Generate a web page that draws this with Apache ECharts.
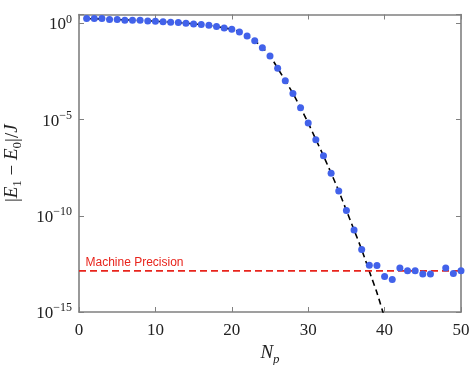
<!DOCTYPE html>
<html>
<head>
<meta charset="utf-8">
<script src="https://cdn.jsdelivr.net/npm/echarts@6/dist/echarts.min.js"></script>
<style>html,body{margin:0;padding:0;background:#fff}#c{width:474px;height:365px}</style>
</head>
<body>
<div id="c"></div>
<script>
// Data
const Np = [1,2,3,4,5,6,7,8,9,10,11,12,13,14,15,16,17,18,19,20,21,22,23,24,25,26,27,28,29,30,31,32,33,34,35,36,37,38,39,40,41,42,43,44,45,46,47,48,49,50];
const gapValues = [1.78,1.78,1.78,1.58,1.58,1.47,1.47,1.47,1.35,1.30,1.20,1.16,1.10,1.02,0.94,0.865,0.805,0.68,0.58,0.50,0.36,0.223,0.127,0.0547,0.0202,4.6e-3,1.04e-3,2.29e-4,4.15e-5,6.7e-6,9.1e-7,1.33e-7,1.65e-8,1.95e-9,1.87e-10,1.84e-11,1.79e-12,2.68e-13,2.62e-13,7.1e-14,4.9e-14,1.91e-13,1.38e-13,1.38e-13,9.4e-14,9.4e-14,null,1.91e-13,1.0e-13,1.38e-13];
const fitNp = [1,2,3,4,5,6,7,8,9,10,11,12,13,14,15,16,17,18,19,20,21,22,23,24,25,26,27,28,29,30,31,32,33,34,35,36,37,38,39,40];
const fitValues = [1.78,1.74,1.70,1.64,1.58,1.52,1.47,1.42,1.37,1.30,1.22,1.16,1.10,1.02,0.94,0.865,0.79,0.69,0.58,0.49,0.37,0.225,0.125,0.056,0.0205,4.7e-3,1.05e-3,2.3e-4,4.1e-5,6.7e-6,9.3e-7,1.3e-7,1.65e-8,1.95e-9,1.9e-10,1.85e-11,1.75e-12,1.3e-13,1.0e-14,5e-16];
const machinePrecision = 1.38e-13;
const machineLabel = 'Machine Precision';
const xTicks = [0,10,20,30,40,50];
const yTickExponents = [0,-5,-10,-15];

const serif = 'Liberation Serif';
const axisGray = '#808080';
const red = '#e8241c';

function yLabel(v){
  const l = Math.log10(v);
  const e = Math.round(l);
  if (Math.abs(l - e) > 0.01 || yTickExponents.indexOf(e) < 0) return '';
  return '{b|10}{s|' + (e === 0 ? '0' : '\u2212' + (-e)) + '}';
}

const chart = echarts.init(document.getElementById('c'), null, {renderer:'canvas'});
const xBase = {
  type:'value', min:xTicks[0], max:xTicks[xTicks.length-1], interval:10,
  axisLine:{show:true, onZero:false, lineStyle:{color:axisGray, width:1.6}},
  axisTick:{show:true, inside:true, length:5, lineStyle:{color:axisGray, width:1}},
  splitLine:{show:false}
};
const yBase = {
  type:'log', logBase:10, min:1e-15, max:2.9, interval:5,
  axisLine:{show:true, onZero:false, lineStyle:{color:axisGray, width:1.6}},
  axisTick:{show:true, inside:true, length:5, lineStyle:{color:axisGray, width:1}},
  splitLine:{show:false}, minorTick:{show:false}
};
chart.setOption({
  animation:false,
  backgroundColor:'#fff',
  grid:{left:79, right:13, top:14.5, bottom:53, outerBoundsMode:'none', containLabel:false},
  xAxis:[
    Object.assign({}, xBase, {position:'bottom',
      axisLabel:{show:true, margin:10, color:'#222', fontFamily:serif, fontSize:17},
      name:'{i|N}{s|p}', nameLocation:'middle', nameGap:30,
      nameTextStyle:{rich:{i:{fontFamily:serif, fontStyle:'italic', fontSize:19, color:'#222', verticalAlign:'top', lineHeight:22}, s:{fontFamily:serif, fontStyle:'italic', fontSize:13, color:'#222', verticalAlign:'bottom', lineHeight:22, padding:[8,0,0,0]}}}
    }),
    Object.assign({}, xBase, {position:'top', axisLabel:{show:false}})
  ],
  yAxis:[
    Object.assign({}, yBase, {position:'left',
      axisLabel:{show:true, margin:7, formatter:yLabel,
        rich:{b:{fontFamily:serif, fontSize:17, color:'#222', verticalAlign:'bottom', lineHeight:20},
              s:{fontFamily:serif, fontSize:12, color:'#222', verticalAlign:'top', lineHeight:14}}},
      name:'|{i|E}{s|1} \u2212 {i|E}{s|0}|/{i|J}', nameLocation:'middle', nameGap:55, nameRotate:90,
      nameTextStyle:{fontFamily:serif, fontSize:19, color:'#222',
        rich:{i:{fontFamily:serif, fontStyle:'italic', fontSize:19, color:'#222', verticalAlign:'top', lineHeight:22},
              s:{fontFamily:serif, fontSize:13, color:'#222', verticalAlign:'bottom', lineHeight:22, padding:[8,0,0,0]}}}
    }),
    Object.assign({}, yBase, {position:'right', axisLabel:{show:false}})
  ],
  series:[
    {
      type:'line', xAxisIndex:0, yAxisIndex:0,
      data: fitNp.map((n,i)=>[n, fitValues[i]]),
      showSymbol:false, symbol:'none', smooth:0.25, clip:true,
      lineStyle:{color:'#000', width:1.6, type:[6,4]}, z:2
    },
    {
      type:'line', xAxisIndex:0, yAxisIndex:0,
      data: [[xTicks[0], machinePrecision], [xTicks[xTicks.length-1], machinePrecision]],
      symbol:'none', showSymbol:false,
      lineStyle:{color:red, width:1.6, type:[7,4]}, z:2, silent:true
    },
    {
      type:'scatter', xAxisIndex:0, yAxisIndex:0,
      data: [[xTicks[0], machinePrecision]],
      symbol:'circle', symbolSize:1, clip:false, silent:true,
      itemStyle:{color:'rgba(0,0,0,0)'},
      label:{show:true, position:[7,-14], formatter:machineLabel,
        color:red, fontFamily:'Liberation Sans', fontSize:12, opacity:1},
      labelLayout:{hideOverlap:false}, z:4
    },
    {
      type:'scatter', xAxisIndex:0, yAxisIndex:0,
      data: Np.map((n,i)=>[n, gapValues[i]]).filter(d=>d[1]!=null),
      symbol:'circle', symbolSize:7,
      itemStyle:{color:'#4262ea', opacity:1}, z:3
    }
  ]
});
</script>
</body>
</html>
